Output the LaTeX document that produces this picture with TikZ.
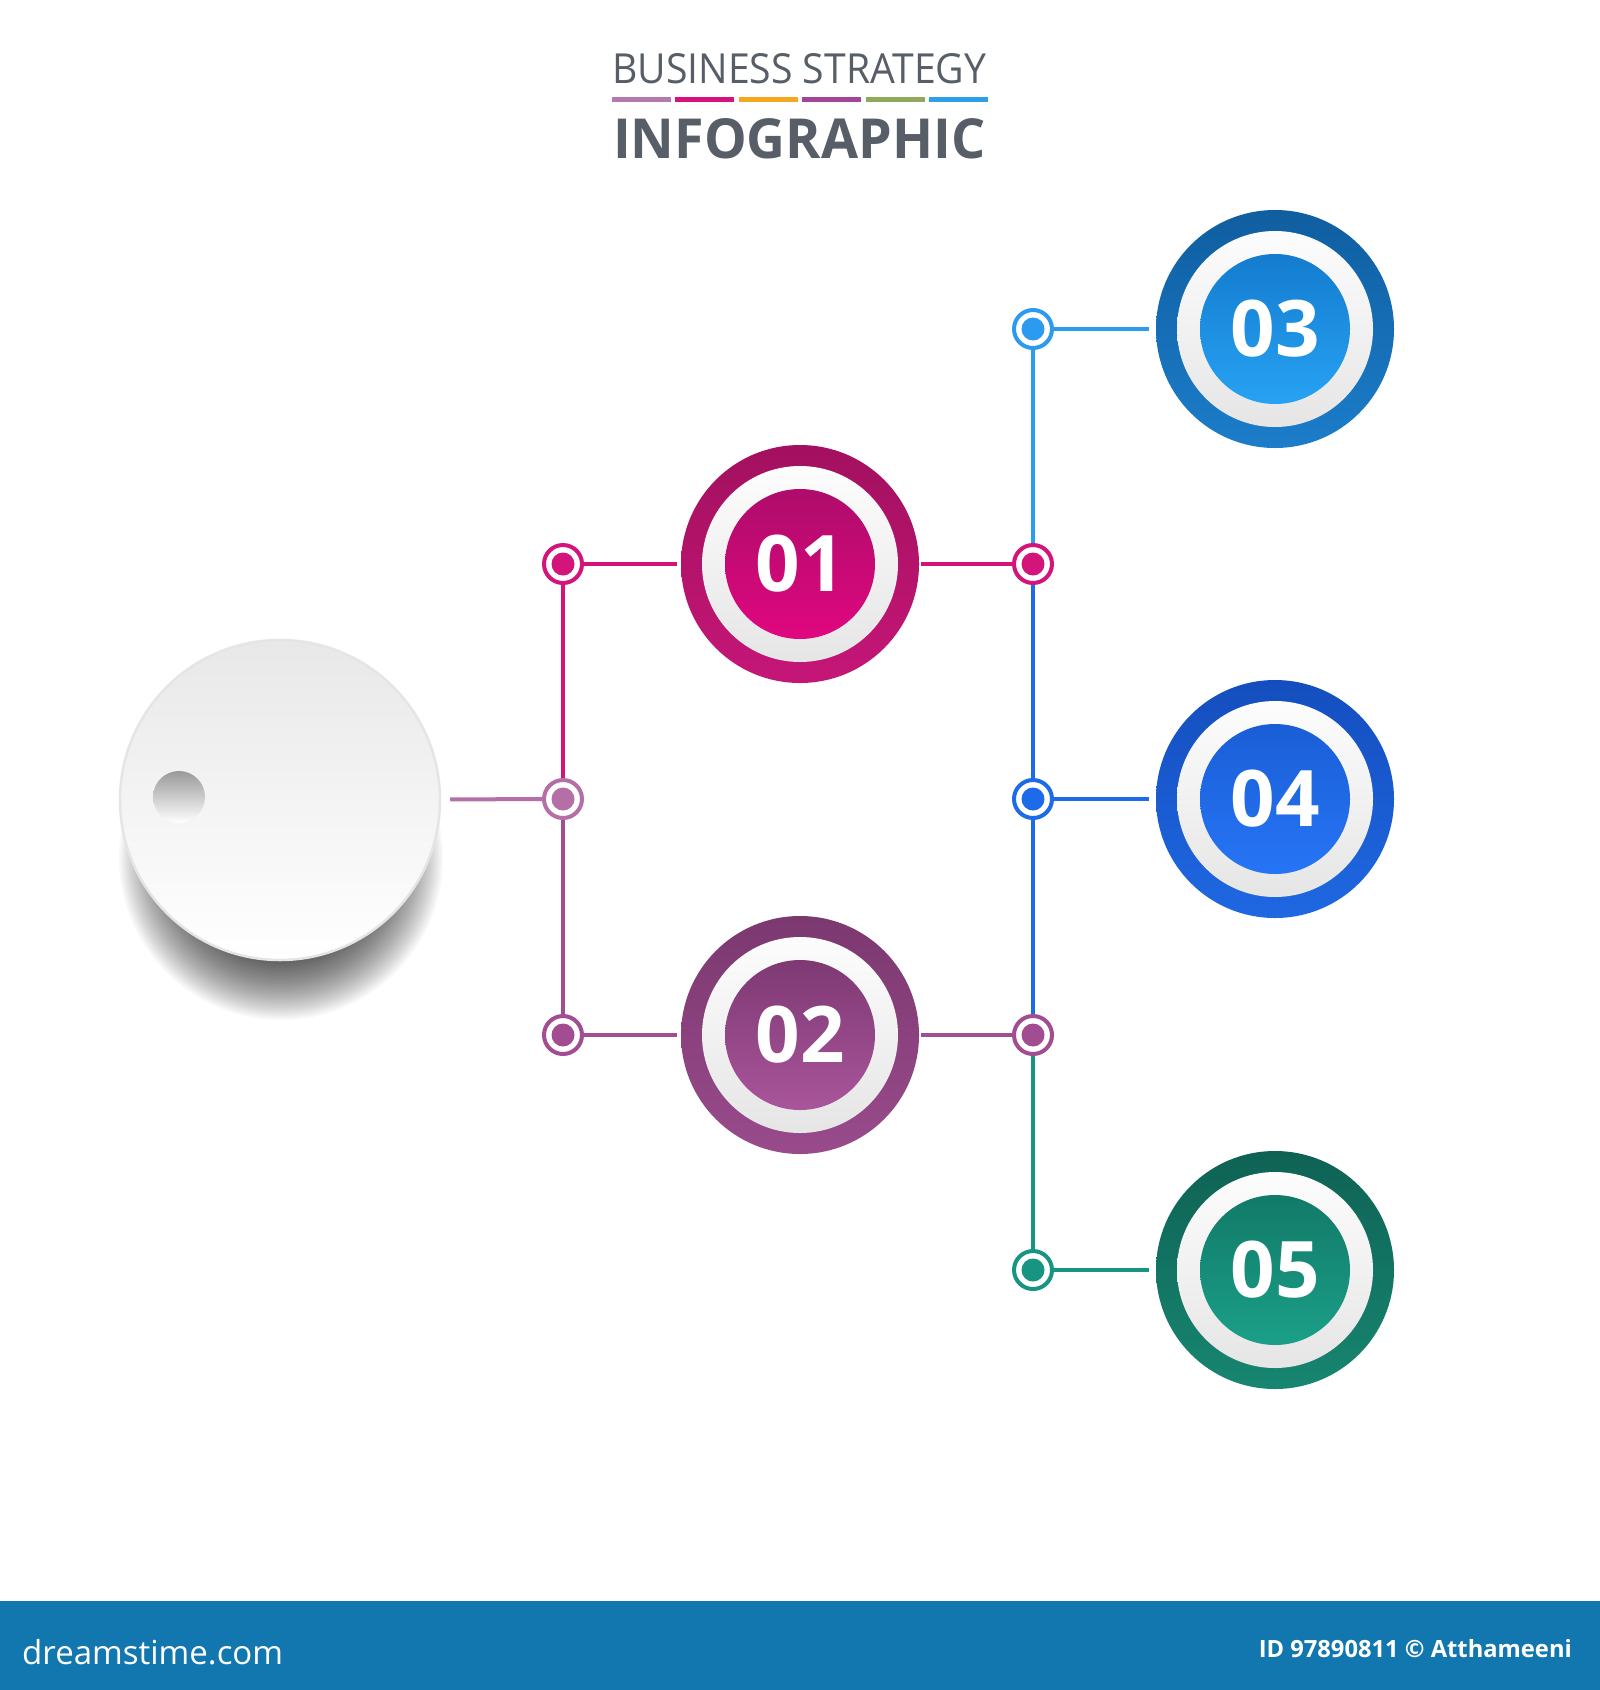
\documentclass[tikz,border=0pt]{standalone}
\usepackage{fontspec}
\setmainfont{Open Sans}
\usepackage{graphicx}
\definecolor{titlegray}{HTML}{585E67}
\definecolor{cmag}{HTML}{D3157B}
\definecolor{cpur}{HTML}{A24D92}
\definecolor{cmauve}{HTML}{B56FA6}
\definecolor{clblue}{HTML}{2C9BEF}
\definecolor{cblue}{HTML}{1E6BEA}
\definecolor{cteal}{HTML}{179482}
\definecolor{footblue}{HTML}{1276AF}
\definecolor{barA}{HTML}{B47AAE}
\definecolor{barB}{HTML}{D6127A}
\definecolor{barC}{HTML}{F5A81E}
\definecolor{barD}{HTML}{A2449A}
\definecolor{barE}{HTML}{8FA85A}
\definecolor{barF}{HTML}{2EA0E8}
% circle colours: outer top, outer bottom, inner top, inner bottom
\definecolor{oaT}{HTML}{A3105E}\definecolor{oaB}{HTML}{C51678}\definecolor{iaT}{HTML}{AE0C6B}\definecolor{iaB}{HTML}{E0077F}
\definecolor{obT}{HTML}{7C3870}\definecolor{obB}{HTML}{994B8B}\definecolor{ibT}{HTML}{7E3973}\definecolor{ibB}{HTML}{A9559B}
\definecolor{ocT}{HTML}{0F5EA0}\definecolor{ocB}{HTML}{1C7DCA}\definecolor{icT}{HTML}{147CCF}\definecolor{icB}{HTML}{27A2F3}
\definecolor{odT}{HTML}{144EBE}\definecolor{odB}{HTML}{1F68E2}\definecolor{idT}{HTML}{1A5ED6}\definecolor{idB}{HTML}{2675F6}
\definecolor{oeT}{HTML}{0E6254}\definecolor{oeB}{HTML}{178671}\definecolor{ieT}{HTML}{117A68}\definecolor{ieB}{HTML}{1B9F88}
\tikzset{
  dotnode/.style={circle, minimum size=38pt, inner sep=0pt, draw=#1, line width=4pt, fill=white,
    path picture={\fill[#1] (path picture bounding box.center) circle[radius=11.5pt];}},
  numnode/.style n args={4}{circle, minimum size=238pt, inner sep=0pt, top color=#1, bottom color=#2,
    text=white, font=\bfseries\fontsize{78}{78}\selectfont,
    path picture={
      \path[top color=white, bottom color=black!11] (path picture bounding box.center) circle[radius=98pt];
      \path[top color=#3, bottom color=#4] (path picture bounding box.center) circle[radius=75pt];
    }},
  cline/.style={line width=4pt, draw=#1},
}
\begin{document}
\begin{tikzpicture}[x=1pt,y=-1pt]
\useasboundingbox (0,0) rectangle (1600,1690);
\fill[white] (0,0) rectangle (1600,1690);

% title
\node[anchor=base west, inner sep=0pt, text=titlegray] (t1) at (612,83)
  {\resizebox{374pt}{30pt}{BUSINESS STRATEGY}};
\fill[barA] (612,97) rectangle (671,102);
\fill[barB] (675,97) rectangle (734,102);
\fill[barC] (739,97) rectangle (798,102);
\fill[barD] (802,97) rectangle (861,102);
\fill[barE] (866,97) rectangle (925,102);
\fill[barF] (929,97) rectangle (988,102);
\node[anchor=base west, inner sep=0pt, text=titlegray] (t2) at (613,158)
  {\resizebox{372pt}{40pt}{\bfseries INFOGRAPHIC}};

% grey disc with shadow
\foreach \r in {162,160,...,100} \fill[black, opacity=0.028] (281,858) circle[radius=\r pt];
\node[circle, minimum size=320pt, inner sep=0pt, top color=black!9, bottom color=white,
      draw=black!10, line width=2.5pt] (disc) at (280,800) {};
\node[circle, minimum size=52pt, inner sep=0pt, top color=black!40, bottom color=white] (hole) at (179,797) {};

% numbered circles
\node[numnode={oaT}{oaB}{iaT}{iaB}] (n1) at (800,564) {01};
\node[numnode={obT}{obB}{ibT}{ibB}] (n2) at (800,1035) {02};
\node[numnode={ocT}{ocB}{icT}{icB}] (n3) at (1275,329) {03};
\node[numnode={odT}{odB}{idT}{idB}] (n4) at (1275,799) {04};
\node[numnode={oeT}{oeB}{ieT}{ieB}] (n5) at (1275,1270) {05};

% small dots
\node[dotnode=cmag] (dL1) at (563,564) {};
\node[dotnode=cmauve] (dLm) at (563,799) {};
\node[dotnode=cpur] (dL2) at (563,1035) {};
\node[dotnode=clblue] (dR3) at (1033,329) {};
\node[dotnode=cmag] (dR1) at (1033,564) {};
\node[dotnode=cblue] (dR4) at (1033,799) {};
\node[dotnode=cpur] (dR2) at (1033,1035) {};
\node[dotnode=cteal] (dR5) at (1033,1270) {};

% connectors
\draw[cline=cmauve, shorten <=9pt] (disc) -- (dLm);
\draw[cline=cmag] (dL1) -- (dLm);
\draw[cline=cpur] (dLm) -- (dL2);
\draw[cline=cmag, shorten >=4pt] (dL1) -- (n1);
\draw[cline=cmag, shorten <=2pt] (n1) -- (dR1);
\draw[cline=cpur, shorten >=4pt] (dL2) -- (n2);
\draw[cline=cpur, shorten <=2pt] (n2) -- (dR2);
\draw[cline=clblue] (dR3) -- (dR1);
\draw[cline=cblue] (dR1) -- (dR4);
\draw[cline=cblue] (dR4) -- (dR2);
\draw[cline=cteal] (dR2) -- (dR5);
\draw[cline=clblue, shorten >=7pt] (dR3) -- (n3);
\draw[cline=cblue, shorten >=7pt] (dR4) -- (n4);
\draw[cline=cteal, shorten >=7pt] (dR5) -- (n5);

% footer
\fill[footblue] (0,1601) rectangle (1600,1690);
\node[anchor=base west, inner sep=0pt, text=white] (ft1) at (22,1664)
  {\resizebox{261pt}{!}{\fontsize{34}{34}\selectfont dreamstime.com}};
\node[anchor=base east, inner sep=0pt, text=white] (ft2) at (1572,1657)
  {\resizebox{313pt}{!}{\bfseries ID 97890811 © Atthameeni}};
\end{tikzpicture}
\end{document}
